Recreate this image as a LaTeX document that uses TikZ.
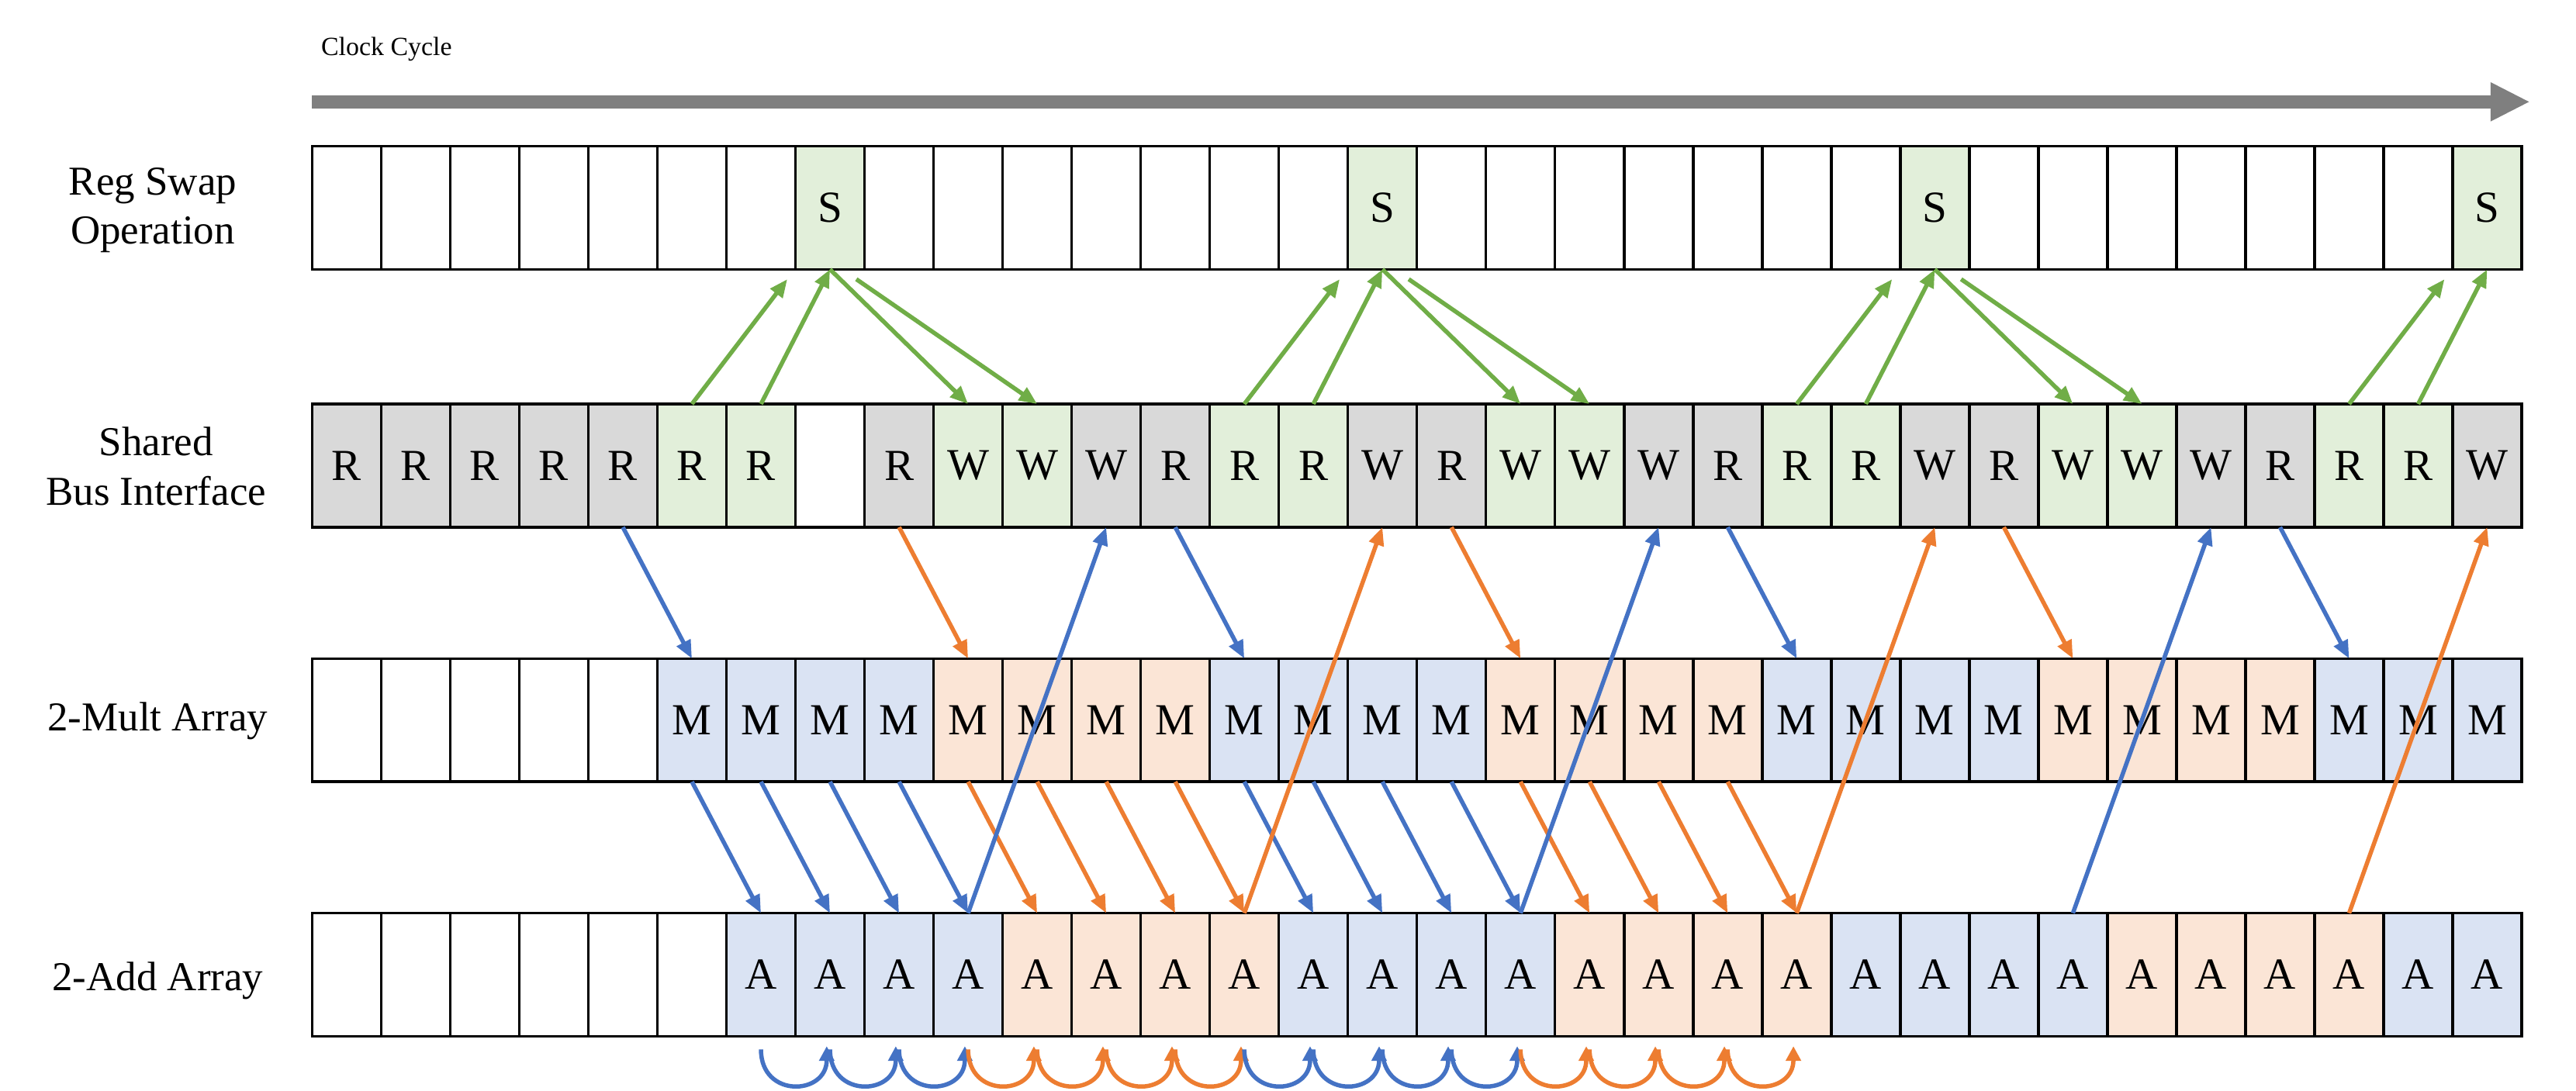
\documentclass[tikz,border=0pt]{standalone}
\usepackage{fontspec}
\setmainfont{Liberation Serif}
\usetikzlibrary{arrows.meta,calc}
\definecolor{cgreen}{HTML}{E2EFDA}
\definecolor{cblue}{HTML}{DAE3F3}
\definecolor{corange}{HTML}{FBE5D6}
\definecolor{cgray}{HTML}{D9D9D9}
\definecolor{agreen}{HTML}{70AD47}
\definecolor{ablue}{HTML}{4472C4}
\definecolor{aorange}{HTML}{ED7D31}
\definecolor{agray}{HTML}{7F7F7F}
\begin{document}
\begin{tikzpicture}[x=1pt,y=-1pt,
 cell/.style={draw=black,line width=1.6pt,minimum width=42.03pt,minimum height=75pt,inner sep=0pt,outer sep=0pt,font=\fontsize{27}{27}\selectfont},
 lab/.style={font=\fontsize{25}{30}\selectfont,align=center},
 arr/.style={line width=2.6pt,-{Triangle[length=11pt,width=9pt]}},
 arcarr/.style={line width=2.6pt,-{Triangle[length=9pt,width=9pt]}}]
\useasboundingbox (0,0) rectangle (1568,664);
\coordinate (clkL) at (190,62);
\coordinate (clkR) at (1540,62);
\draw[agray,line width=8pt,-{Triangle[length=24pt,width=22pt]}] (clkL) -- (clkR);
\node[anchor=west,font=\fontsize{16}{16}\selectfont] (clk) at (192,30) {Clock Cycle};
\node[lab] (l1) at (93,128) {Reg Swap\\Operation};
\node[lab] (l2) at (95,284) {Shared\\Bus Interface};
\node[lab] (l3) at (96,439) {2-Mult Array};
\node[lab] (l4) at (96,597) {2-Add Array};
% Reg swap row
\foreach \i in {0,...,31}{
  \node[cell,fill=white] (s\i) at ({190+42.03*\i+21.015},126.5) {};
}
\foreach \i in {7,15,23,31}{
  \node[cell,fill=cgreen] (s\i) at ({190+42.03*\i+21.015},126.5) {S};
}
% bus row
\foreach \i/\c/\t in {0/cgray/R,1/cgray/R,2/cgray/R,3/cgray/R,4/cgray/R,5/cgreen/R,6/cgreen/R,7/white/,
 8/cgray/R,9/cgreen/W,10/cgreen/W,11/cgray/W,12/cgray/R,13/cgreen/R,14/cgreen/R,15/cgray/W,
 16/cgray/R,17/cgreen/W,18/cgreen/W,19/cgray/W,20/cgray/R,21/cgreen/R,22/cgreen/R,23/cgray/W,
 24/cgray/R,25/cgreen/W,26/cgreen/W,27/cgray/W,28/cgray/R,29/cgreen/R,30/cgreen/R,31/cgray/W}{
  \node[cell,fill=\c] (b\i) at ({190+42.03*\i+21.015},283.5) {\t};
}
% mult row
\foreach \i in {0,...,4}{\node[cell,fill=white] (m\i) at ({190+42.03*\i+21.015},438.5) {};}
\foreach \i in {5,...,31}{
  \pgfmathtruncatemacro{\g}{mod(div(\i-5,4),2)}
  \ifnum\g=0 \def\c{cblue}\else\def\c{corange}\fi
  \node[cell,fill=\c] (m\i) at ({190+42.03*\i+21.015},438.5) {M};
}
% add row
\foreach \i in {0,...,5}{\node[cell,fill=white] (a\i) at ({190+42.03*\i+21.015},593.5) {};}
\foreach \i in {6,...,31}{
  \pgfmathtruncatemacro{\g}{mod(div(\i-6,4),2)}
  \ifnum\g=0 \def\c{cblue}\else\def\c{corange}\fi
  \node[cell,fill=\c] (a\i) at ({190+42.03*\i+21.015},593.5) {A};
}
% green arrows
\foreach \s in {7,15,23}{
  \pgfmathtruncatemacro{\pa}{\s-2}\pgfmathtruncatemacro{\pb}{\s-1}
  \pgfmathtruncatemacro{\pc}{\s+2}\pgfmathtruncatemacro{\pd}{\s+3}
  \draw[arr,agreen] (b\pa.north) -- ($(s\s.south)+(-26,6)$);
  \draw[arr,agreen] (b\pb.north) -- (s\s.south);
  \draw[arr,agreen] (s\s.south) -- (b\pc.north);
  \draw[arr,agreen] ($(s\s.south)+(16,6)$) -- (b\pd.north);
}
\draw[arr,agreen] (b29.north) -- ($(s31.south)+(-26,6)$);
\draw[arr,agreen] (b30.north) -- (s31.south);
% bus -> mult
\foreach \k/\col in {4/ablue,8/aorange,12/ablue,16/aorange,20/ablue,24/aorange,28/ablue}{
  \pgfmathtruncatemacro{\n}{\k+1}
  \draw[arr,\col] (b\k.south) -- (m\n.north);
}
% mult -> add
\foreach \i in {5,...,20}{
  \pgfmathtruncatemacro{\n}{\i+1}
  \pgfmathtruncatemacro{\g}{mod(div(\i-5,4),2)}
  \ifnum\g=0 \def\col{ablue}\else\def\col{aorange}\fi
  \draw[arr,\col] (m\i.south) -- (a\n.north);
}
% add -> bus
\foreach \k/\col in {9/ablue,13/aorange,17/ablue,21/aorange,25/ablue,29/aorange}{
  \pgfmathtruncatemacro{\n}{\k+2}
  \draw[arr,\col] (a\k.north) -- (b\n.south);
}
% bottom arcs
\foreach \i in {6,...,20}{
  \pgfmathtruncatemacro{\n}{\i+1}
  \pgfmathtruncatemacro{\g}{mod(div(\n-6,4),2)}
  \ifnum\g=0 \def\col{ablue}\else\def\col{aorange}\fi
  \draw[arcarr,\col] ([yshift=-8pt]a\i.south) .. controls +(0,30) and +(0,30) .. ([xshift=-2pt,yshift=-6pt]a\n.south);
}
\end{tikzpicture}
\end{document}
